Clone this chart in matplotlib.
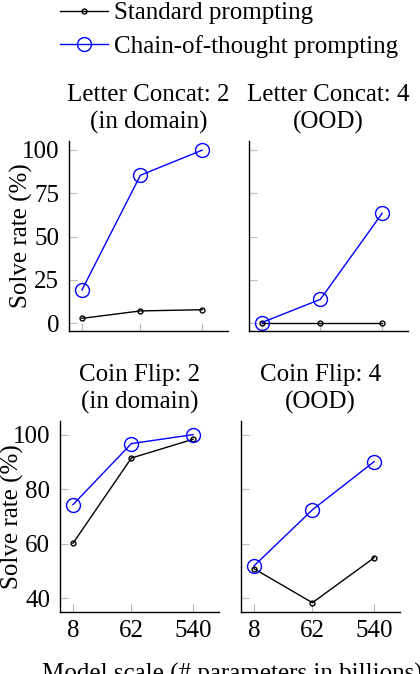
import numpy as np
import matplotlib
matplotlib.use("Agg")
import matplotlib.pyplot as plt

plt.rcParams['font.family'] = ['Liberation Serif', 'DejaVu Serif']
plt.rcParams['font.size'] = 18

# datos
escalas = [8, 62, 540]
etiquetas_x = ["8", "62", "540"]

titulos = ["Letter Concat: 2\n(in domain)", "Letter Concat: 4\n(OOD)",
           "Coin Flip: 2\n(in domain)", "Coin Flip: 4\n(OOD)"]

letter2_std = [2.7, 7.0, 7.7]
letter2_cot = [19.1, 85.4, 99.9]
letter4_std = [0.2, 0.2, 0.2]
letter4_cot = [0.3, 13.7, 63.4]
coin2_std = [60.1, 91.4, 98.3]
coin2_cot = [74.3, 96.7, 100.0]
coin4_std = [50.8, 38.3, 54.8]
coin4_cot = [51.8, 72.4, 90.1]

series_std = [letter2_std, letter4_std, coin2_std, coin4_std]
series_cot = [letter2_cot, letter4_cot, coin2_cot, coin4_cot]

fig = plt.figure(figsize=(4.2, 6.74), dpi=100)

W, H = 420, 674
# posiciones en pixeles (izq, der, arriba, abajo)
cajas = [(69, 228, 141, 331), (249, 408, 141, 331),
         (60, 219, 421, 611.7), (241, 400, 421, 611.7)]
# borde derecho de la etiqueta del eje y, en pixeles
borde_ylabel = {0: 33, 2: 24}

ejes = []
for i, (x0, x1, y0, y1) in enumerate(cajas):
    ax = fig.add_axes([x0 / W, 1 - y1 / H, (x1 - x0) / W, (y1 - y0) / H])
    ejes.append(ax)
    l1, = ax.plot(escalas, series_std[i], color='black', lw=1.0, marker='o',
                  ms=3.5, mfc='none', mew=1.0, label='Standard prompting')
    l2, = ax.plot(escalas, series_cot[i], color='#0000ff', lw=1.0, marker='o',
                  ms=10, mfc='none', mew=1.0, label='Chain-of-thought prompting')
    ax.set_xscale('log')
    ax.set_xlim(5.08, 1337)
    ax.minorticks_off()
    ax.set_xticks(escalas)
    ax.set_title(titulos[i], pad=9, linespacing=1.3, fontsize=18)
    for s in ['top', 'right']:
        ax.spines[s].set_visible(False)
    for s in ['left', 'bottom']:
        ax.spines[s].set_linewidth(1.0)
    ax.tick_params(direction='in', length=5.8, width=0.8, color='#bbbbbb',
                   labelcolor='black')
    ax.tick_params(axis='y', pad=7)
    ax.tick_params(axis='x', pad=6)

    if i < 2:
        ax.set_ylim(-4.6, 105.2)
        ax.set_yticks([0, 25, 50, 75, 100])
        ax.set_xticklabels([])
    else:
        ax.set_ylim(35, 105)
        ax.set_yticks([40, 60, 80, 100])
        ax.set_xticklabels(etiquetas_x)

    if i % 2 == 0:
        ax.set_ylabel('Solve rate (%)')
        ax.yaxis.set_label_coords((borde_ylabel[i] - x0) / (x1 - x0), 0.5)
    else:
        ax.set_yticklabels([])

fig.legend(handles=[l1, l2], loc='upper left', bbox_to_anchor=(60 / W, 1 - 2 / H),
           frameon=False, borderpad=0, borderaxespad=0, handlelength=1.9,
           handletextpad=0.25, labelspacing=0.42)

fig.text(42 / W, 1 - 663 / H, 'Model scale (# parameters in billions)',
         ha='left', va='top')

plt.savefig('out.png', dpi=100)
